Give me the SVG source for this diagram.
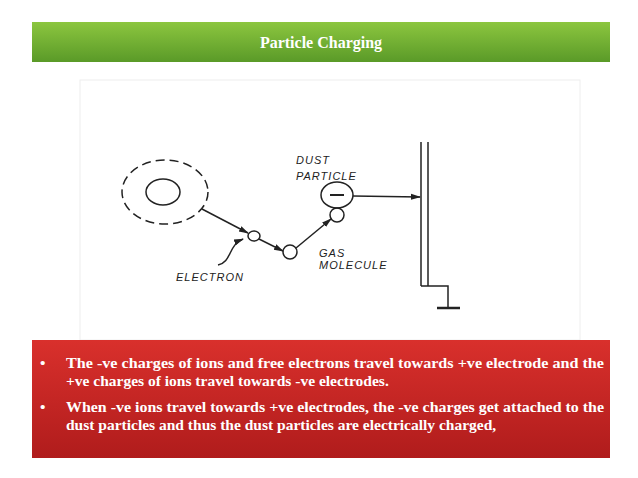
<svg xmlns="http://www.w3.org/2000/svg" width="638" height="478" viewBox="0 0 638 478">
<defs>
<linearGradient id="g" x1="0" y1="0" x2="0" y2="1"><stop offset="0" stop-color="#8cc63f"/><stop offset="1" stop-color="#5a9a28"/></linearGradient>
<linearGradient id="r" x1="0" y1="0" x2="0" y2="1"><stop offset="0" stop-color="#d9302c"/><stop offset="1" stop-color="#b01c1c"/></linearGradient>
<marker id="a" markerWidth="10" markerHeight="8" refX="9" refY="4" orient="auto" markerUnits="userSpaceOnUse"><path d="M0,1 L10,4 L0,7 Z" fill="#222"/></marker>
<style>
.l{fill:none;stroke:#222;stroke-width:1.5}
.h{font-family:"Liberation Sans",sans-serif;font-style:italic;font-size:11px;fill:#222;letter-spacing:1px}
.b{font-family:"Liberation Serif",serif;font-weight:bold;font-size:15.5px;fill:#fff}
</style>
</defs>
<rect width="638" height="478" fill="#fff"/>
<rect x="32" y="22" width="578" height="40" fill="url(#g)"/>
<text x="321" y="48" text-anchor="middle" font-family="Liberation Serif,serif" font-weight="bold" font-size="16" fill="#fff">Particle Charging</text>
<rect x="80" y="80" width="500" height="260" fill="#fff" stroke="#eee"/>
<g id="nucleus"><ellipse cx="165" cy="192" rx="43" ry="32" class="l" stroke-dasharray="9,5"/><ellipse cx="163" cy="192" rx="17" ry="13" class="l"/></g>
<g id="electron"><ellipse cx="254" cy="236" rx="6" ry="5" class="l"/><text x="176" y="281" class="h">ELECTRON</text></g>
<g id="gas"><circle cx="290" cy="252" r="7" class="l"/><circle cx="337" cy="215" r="7" class="l"/><text x="319" y="257" class="h">GAS</text><text x="319" y="269" class="h">MOLECULE</text></g>
<g id="dust"><ellipse cx="337" cy="195" rx="16" ry="13" class="l"/><line x1="330" y1="195" x2="344" y2="195" stroke="#222" stroke-width="2"/><text x="296" y="164" class="h">DUST</text><text x="296" y="180" class="h">PARTICLE</text></g>
<g id="electrode"><line x1="421" y1="142" x2="421" y2="286" class="l"/><line x1="428" y1="142" x2="428" y2="286" class="l"/><polyline points="421,286 448,286 448,308" class="l"/><line x1="437" y1="308" x2="460" y2="308" stroke="#222" stroke-width="2.5"/></g>
<g id="connectors">
<line x1="202" y1="209" x2="248" y2="233" class="l" marker-end="url(#a)"/>
<line x1="259" y1="239" x2="283" y2="251" class="l" marker-end="url(#a)"/>
<line x1="296" y1="248" x2="331" y2="219" class="l" marker-end="url(#a)"/>
<line x1="353" y1="196" x2="420" y2="197" class="l" marker-end="url(#a)"/>
<path d="M218,265 C232,262 228,245 243,239" class="l" marker-end="url(#a)"/>
</g>
<rect x="32" y="340" width="578" height="118" fill="url(#r)"/>
<g class="b">
<text x="40" y="368">•</text><text x="66" y="368" textLength="538" lengthAdjust="spacingAndGlyphs">The -ve charges of ions and free electrons travel towards +ve electrode and the</text>
<text x="66" y="386">+ve charges of ions travel towards -ve electrodes.</text>
<text x="40" y="412">•</text><text x="66" y="412" textLength="538" lengthAdjust="spacingAndGlyphs">When -ve ions travel towards +ve electrodes, the -ve charges get attached to the</text>
<text x="66" y="430">dust particles and thus the dust particles are electrically charged,</text>
</g>
</svg>
